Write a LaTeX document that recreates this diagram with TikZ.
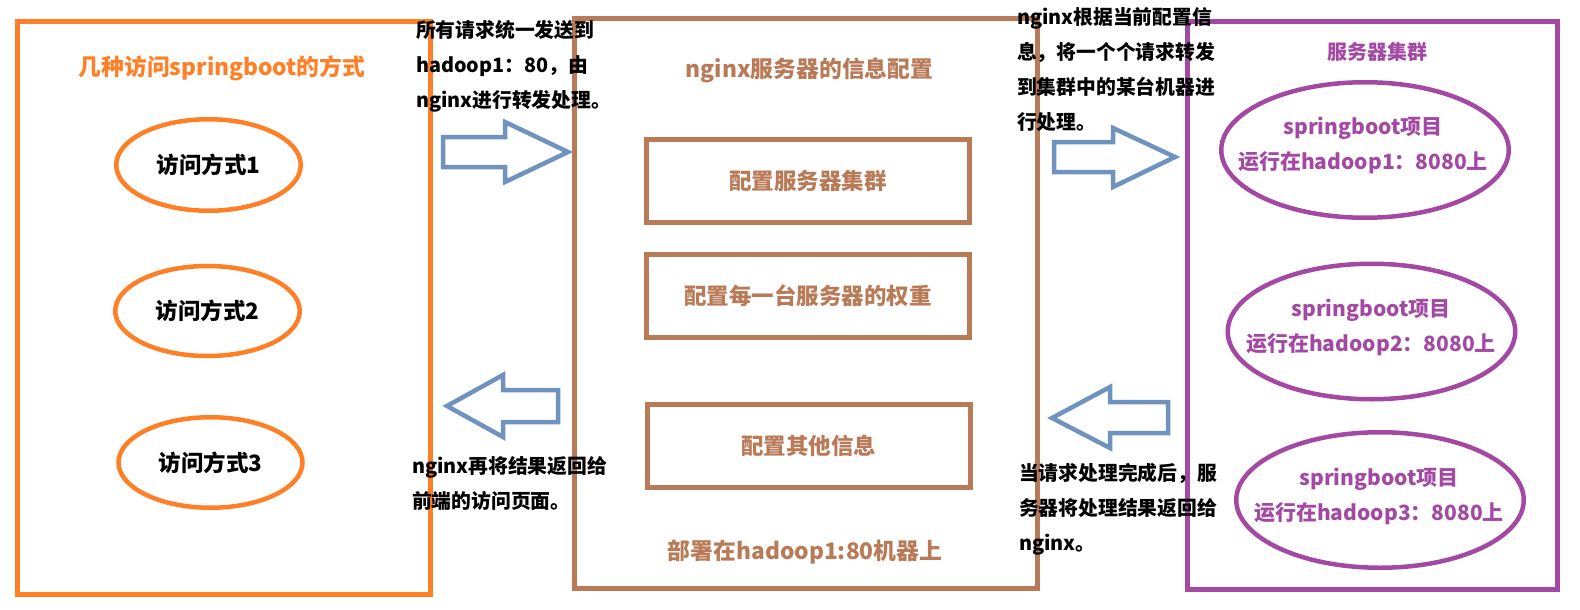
\documentclass[tikz,border=0pt]{standalone}
\usepackage{fontspec}
\setmainfont{Noto Sans CJK SC}
\usetikzlibrary{shapes.geometric}
\definecolor{cOrange}{RGB}{255,127,39}
\definecolor{cBrown}{RGB}{185,122,87}
\definecolor{cPurple}{RGB}{163,73,164}
\definecolor{cBlue}{RGB}{112,146,190}
\tikzset{
  every node/.style={inner sep=0pt, outer sep=0pt},
  frame/.style={draw, rectangle, line width=5pt},
  oval/.style={ellipse, draw, line width=4.5pt},
  cfgbox/.style={draw=cBrown, rectangle, line width=5pt, minimum width=323pt, minimum height=83pt, text=cBrown, font=\bfseries\fontsize{22.5}{26}\selectfont},
  note/.style={align=left, anchor=north west, font=\bfseries\fontsize{19.8}{35}\selectfont},
  bigarrow/.style={draw=cBlue, line width=4.5pt, line join=miter},
  ttl/.style={font=\bfseries\fontsize{22.8}{26}\selectfont},
  ptxt/.style={align=center, text=cPurple, font=\bfseries\fontsize{21}{35}\selectfont},
  otxt/.style={font=\bfseries\fontsize{22.5}{26}\selectfont}
}
\begin{document}
\begin{tikzpicture}[x=1pt,y=-1pt]
\useasboundingbox (0,0) rectangle (1580,610);
% frames
\node[frame, draw=cOrange, minimum width=413pt, minimum height=572pt] (left) at (223.5,308) {};
\node[frame, draw=cBrown, minimum width=463pt, minimum height=569pt] (mid) at (805.5,303.5) {};
\node[frame, draw=cPurple, minimum width=370pt, minimum height=567pt] (right) at (1372,305.5) {};
% left panel
\node[ttl, text=cOrange] (lt) at (222,68) {几种访问springboot的方式};
\node[oval, draw=cOrange, minimum width=184.5pt, minimum height=91.5pt, otxt] (m1) at (208.5,165) {访问方式1};
\node[oval, draw=cOrange, minimum width=184.5pt, minimum height=90pt, otxt] (m2) at (207.5,311) {访问方式2};
\node[oval, draw=cOrange, minimum width=184pt, minimum height=90.5pt, otxt] (m3) at (210.5,462.5) {访问方式3};
% middle panel
\node[ttl, text=cBrown] (mt) at (809.5,70) {nginx服务器的信息配置};
\node[cfgbox] (c1) at (807.8,181.2) {配置服务器集群};
\node[cfgbox] (c2) at (807.8,296.2) {配置每一台服务器的权重};
\node[cfgbox] (c3) at (808.8,445.5) {配置其他信息};
\node[ttl, text=cBrown] (mb) at (805,552) {部署在hadoop1:80机器上};
% right panel
\node[ptxt, font=\bfseries\fontsize{20}{24}\selectfont] (rt) at (1377,52) {服务器集群};
\node[oval, draw=cPurple, minimum width=287.5pt, minimum height=135.5pt] (s1) at (1365,150) {};
\node[oval, draw=cPurple, minimum width=287.5pt, minimum height=135.5pt] (s2) at (1371.5,331.5) {};
\node[oval, draw=cPurple, minimum width=287.5pt, minimum height=135.5pt] (s3) at (1380,500) {};
\node[ptxt] (s1t) at (1363,145.5) {springboot项目\\运行在hadoop1：8080上};
\node[ptxt] (s2t) at (1371,327) {springboot项目\\运行在hadoop2：8080上};
\node[ptxt] (s3t) at (1379,496) {springboot项目\\运行在hadoop3：8080上};
% notes
\node[note] (n1) at (416,20) {所有请求统一发送到\\hadoop1：80，由\\nginx进行转发处理。};
\node[note] (n2) at (412,456) {nginx再将结果返回给\\前端的访问页面。};
\node[note] (n3) at (1017,7) {nginx根据当前配置信\\息，将一个个请求转发\\到集群中的某台机器进\\行处理。};
\node[note] (n4) at (1019,463) {当请求处理完成后，服\\务器将处理结果返回给\\nginx。};
% arrows
\draw[bigarrow] (443,137) -- (505,137) -- (505,122) -- (568,152) -- (505,182) -- (505,167) -- (443,167) -- cycle;
\draw[bigarrow] (1054,142) -- (1113,142) -- (1113,128) -- (1175,157) -- (1113,187) -- (1113,172) -- (1054,172) -- cycle;
\draw[bigarrow] (558,390) -- (503,390) -- (503,375) -- (447,406) -- (503,437) -- (503,422) -- (558,422) -- cycle;
\draw[bigarrow] (1168,402) -- (1110,402) -- (1110,387) -- (1052,418) -- (1110,448) -- (1110,433) -- (1168,433) -- cycle;
\end{tikzpicture}
\end{document}
